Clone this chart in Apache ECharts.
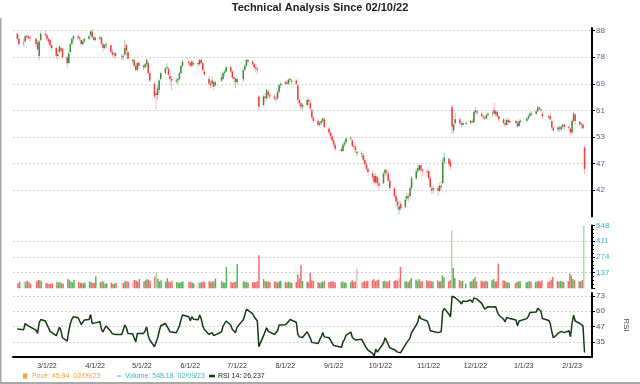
<!DOCTYPE html>
<html><head><meta charset="utf-8">
<script src="https://cdn.jsdelivr.net/npm/echarts@6/dist/echarts.min.js"></script>
<style>html,body{margin:0;padding:0;background:#fff}#c{width:640px;height:384px}</style>
</head><body><div id="c"></div>
<script>
const tradingDays = {
 '2022-02': [10,11,14,15,16,17,18,22,23,24,25,28],
 '2022-03': [1,2,3,4,7,8,9,10,11,14,15,16,17,18,21,22,23,24,25,28,29,30,31],
 '2022-04': [1,4,5,6,7,8,11,12,13,14,18,19,20,21,22,25,26,27,28,29],
 '2022-05': [2,3,4,5,6,9,10,11,12,13,16,17,18,19,20,23,24,25,26,27,31],
 '2022-06': [1,2,3,6,7,8,9,10,13,14,15,16,17,21,22,23,24,27,28,29,30],
 '2022-07': [1,5,6,7,8,11,12,13,14,15,18,19,20,21,22,25,26,27,28,29],
 '2022-08': [1,2,3,4,5,8,9,10,11,12,15,16,17,18,19,22,23,24,25,26,29,30,31],
 '2022-09': [1,2,6,7,8,9,12,13,14,15,16,19,20,21,22,23,26,27,28,29,30],
 '2022-10': [3,4,5,6,7,10,11,12,13,14,17,18,19,20,21,24,25,26,27,28,31],
 '2022-11': [1,2,3,4,7,8,9,10,11,14,15,16,17,18,21,22,23,25,28,29,30],
 '2022-12': [1,2,5,6,7,8,9,12,13,14,15,16,19,20,21,22,23,27,28,29,30],
 '2023-01': [3,4,5,6,9,10,11,12,13,17,18,19,20,23,24,25,26,27,30,31],
 '2023-02': [1,2,3,6,7,8,9]
};
const opens = [
 86.5,84.5,83,83.5,85.5,85.5,85,84.5,83,78,84,86.5,
 86,84.5,84,82,81,78,79.5,81,80.5,77.5,75.5,79.5,82.5,84.5,85.5,85,84,82.5,83.5,84.5,86,87.5,85,
 84,85,85,82.5,81,82,82,79.5,78.5,79,77.8,77.5,78.5,82,79.5,76.5,76.5,74.5,73,75.5,
 74.5,74,75,75.5,72,68.5,65.5,65,66.5,70,72,74,73.5,71,70,69.5,69.5,70,72,74.5,76,
 75.5,74.5,75.5,75.5,75,76.5,75.5,72.5,70,68.5,68.5,69,68,69.5,70,72,72.5,74,72.5,70.5,70,
 69,70,73,74.5,76.5,76,75,74,73.5,64.5,62,64.5,64,66,65,64.5,64,64,66,68,
 68.5,69,68.5,69.8,69.5,69.5,68,63.5,62.5,61.5,62,63.5,62.5,60.5,58.5,57.5,56.5,57,57.5,58,55.5,54.5,53.5,
 52.5,51.5,50.5,50,51.5,52,53,52.5,51.2,51,49.5,49.5,49,48,47,46,45,44.5,43.2,44.2,43,
 43,45,45.5,45,43.5,42,40.5,39.5,38,39,38.5,40,40.5,40.5,42,44,45.5,45.8,46.8,45.8,45.5,
 45.5,44,42,41.8,42,41.5,42.5,43,47.5,48.2,47.5,61.5,55,57,58,57,56.5,57,57,57.5,57.2,
 60,60.2,59.5,58.8,58.5,58.2,59.2,59.5,60.5,59.5,60,58.8,58,57,56.5,57.8,57.2,57.5,57,56.2,57.5,
 57.6,58.2,58.8,59.6,59.5,60.2,61.3,60.8,59.5,58.8,58.8,57.5,55.8,55.2,55.8,55.3,56,56.5,56,55.5,
 54.5,57.5,59.3,57.3,56.5,56.6,50.8
];
const closes = [
 84.5,82.5,82.8,85.5,85.2,84.8,84.5,82.5,80.5,83.5,86.5,86,
 84.5,83.5,82,81,78,78.5,81.5,80,77.5,75.5,79,82.5,84.5,85.5,85,84.5,82.5,83.5,84.5,85.5,87.5,85,84,
 85,85,82.5,81,82,82.5,79.5,78.5,78.8,78,77.8,78,81,80,77,76.5,74.5,73,75.5,74.5,
 74,75,76.5,72,69.5,64.5,65,67,69.5,72,73.5,74,71.5,70,69.5,69.5,70,72,74.5,76,75.5,
 74.5,76,75,75,76.5,75.5,73,71.5,68.5,68,69.5,67.5,69,70.5,72,72.5,74,72.5,70.5,70,69,
 70,73,74.5,76.5,76,75,74,73.5,73,61.5,64.5,64,66.5,65,64.5,64,63.8,66,68,68.5,
 69,68.5,69.8,70,69.2,68.5,63.5,62.5,61.5,62,63.5,63,61,58.5,57.5,56.5,57,57.5,58.2,56,54.5,53.5,52.5,
 51.5,50.5,50,51.5,52,53,53.2,51.2,51,50.2,49.8,49.5,48,47,46,45.3,44.2,43.2,44.5,43,42.5,
 45,45.8,45.3,43.5,42,40.5,39.5,38.8,38.6,38.2,39.8,40.5,40.2,42,44,45.5,46.2,46.8,45.8,45.5,45.3,
 44,42.2,41.5,42,41.5,42.5,42.2,47.5,48.5,47,46.5,56,56.5,58,57,56.5,57,57,57.5,57.3,60,
 60.5,59.8,58.8,58.5,58.2,59.2,59.5,59.8,59.5,60.2,58.8,58,57,56.5,57.8,57.2,57.5,57,56,57.5,57.6,
 58.2,58.8,59.6,59.5,60.2,61.3,60.8,60.5,58.8,58.5,58,55.8,55,55.8,55.5,56,56.5,56,55.8,54.5,
 57.5,59.5,57.5,56.7,56.8,55.6,45.94
];
const lows = [
 84,81.8,81.5,83,84.2,84,83.5,81.5,80,76.5,83.5,85,
 83.5,82.5,81,80,77,76.6,79,79.5,77,73.8,75,79,82,83.5,84,83.5,82,82,83,84,85.5,84.5,83.5,
 83.5,84,82,79.6,80.5,81,79,77.5,77.5,77,76.5,76.5,78,78,76.5,75,74,72.5,72.5,73.5,
 73,73.5,74,71.5,69,64,60.6,63.5,65.5,69.5,71.5,73,71,68.5,66.5,68.5,68,69.5,71.5,74,74.5,
 74,74,74.5,74,74.5,75,72.5,71,68,67,67.5,66.6,67.5,69,69.5,71,72,72,70,69,67,
 68.5,69,72.5,74,75,74.5,73,72.5,71.5,60.4,61.5,63,63.5,64,63.6,63.5,63,63.5,65.5,67,
 68,68,68.2,69,68,68,62.5,61.5,60.6,60.8,61.5,62,60.5,58,57,56,56,56.5,57,55.5,54,52.8,52,
 50.8,50,49.6,49.8,51,51.8,52.5,50.8,50.3,49.6,48.8,48.5,47.5,46.8,45.5,44.5,43.5,42.5,42.8,42.2,41.8,
 42.8,44.5,44.3,43.2,41.5,40,38.5,38,37.2,37.8,38.2,39.5,39.5,40.2,41.5,43.8,45,45.5,45.2,44.5,44.3,
 43.5,42,40.8,41,40.5,41.2,41.8,42.8,47,46.5,45.8,54.2,54.2,56.5,56.5,56,56,56.5,56.5,56.8,57,
 59.5,59,58.5,58,57.7,58,58.8,58.6,59,58.8,58.5,57.2,56.5,56,56.3,56.5,57,56.5,55.8,56,57,
 57.2,58,58.5,59,59.2,60,60.4,60.2,58,58,57.7,55.3,54.9,54.8,54.5,55,55.5,55.2,55,53.8,
 54,57.2,56.5,56,55.5,55.4,44.9
];
const highs = [
 87,86,84.5,86.2,86.5,86.3,85.8,85,84,84,87.5,88,
 86.5,85,84.5,82.5,81.5,80.5,82,81.5,81,78,79.5,83,85,86,86.5,85.5,84.5,84,85,86,88,88.3,85.5,
 85.5,85.8,85.5,83,82.5,83,82.3,80.5,79.5,79.5,78.5,78.8,84.2,82.5,80,77,77,75,76,76,
 75,75.5,77,76,72.5,69,66,68,70,72.5,74,75.5,74,72,71,70.5,70.5,72.5,75,76.6,76.5,
 76,76.5,76,76,77,77.2,76,73,71,69.5,70.5,69.5,69.5,71.5,72.5,73,74.5,74.5,73,71,70.5,
 70.5,73.5,75,77,77,76.5,75.5,75,74,65,65,65.5,66.8,66.5,65.5,65.5,65,66.5,68.5,69,
 69.5,69.8,70.2,70.5,70,70,68,64,63,62.5,64,64,63.5,61,59,58,57.5,58,58.5,58.5,56,55,54,
 53,52,51,52,52.5,53.2,53.6,53,51.8,51.5,50,50,49.5,49,47.5,46.2,45.5,45,45,44.5,44,
 45.3,46,46,45.5,44,42.3,41,40,39.5,39.5,40.5,41.2,41,42.5,44.5,46,46.8,47,47,46,46,
 46,44.5,42.5,42.5,42.5,43,43.5,48.5,49.6,48.5,48,62,57,59.8,58.5,57.5,57.5,57.5,57.8,58,60.5,
 61.3,60.5,60,59.2,59,59.5,60,60.7,62.6,60.7,60.3,59,58.3,57.7,58.3,58.3,58,57.8,57.5,58,58,
 58.6,59.3,60,60.3,60.7,61.9,61.5,61.2,60,59.3,59.7,57.7,56.2,56.2,56.4,56.4,56.9,56.8,56.4,55.8,
 58,60,59.5,57.5,57,56.9,51.3
];
const volumes = [
 44,58,52,60,66,52,40,62,73,70,60,48,
 42,38,40,44,58,50,54,44,40,82,72,58,52,74,56,46,50,42,50,60,52,46,48,
 102,55,60,58,40,44,50,38,42,48,50,46,64,60,58,70,72,66,56,82,
 60,70,82,74,62,102,140,84,60,70,58,87,60,52,66,54,50,48,56,60,58,
 56,50,44,52,48,54,60,56,64,52,58,62,85,60,52,50,187,56,48,52,58,
 210,60,58,56,48,54,52,56,62,289,80,64,60,58,54,60,56,52,62,66,
 54,50,58,52,48,56,120,82,201,64,58,52,134,70,62,56,48,52,58,60,54,56,62,
 58,50,54,60,52,48,56,70,52,60,172,58,52,64,60,66,70,78,62,70,76,
 62,66,54,60,68,64,72,66,90,187,62,58,52,70,88,74,66,82,58,64,70,
 60,66,62,58,70,60,62,114,96,60,70,504,178,90,72,60,64,40,58,64,80,
 96,60,66,62,58,64,56,70,80,60,62,216,70,66,58,52,48,44,56,60,62,
 52,58,62,60,56,60,66,58,70,54,60,74,100,62,58,64,60,56,62,128,
 110,82,70,62,58,72,548.18
];
const rsi14 = [
 45.5,44.5,44.8,50,49,48,48,44.5,41.8,50.5,53.3,52,
 49,46.5,43.5,42,40,40.5,47,44,38.3,35.5,44,50,53.5,55.5,54.7,53.5,49.2,51,52.8,53.3,57.4,50,48.7,
 50.5,51.4,45,43,46,48,43.5,41.5,42,41,41,41.5,48.7,46.5,41.8,41.5,38,35,41.8,40.5,
 41.8,44,47.3,40,36.5,30.9,31.5,38,43.2,48.1,50,49.5,45.5,43.2,42.4,42.4,43.5,47.9,53,56.9,55.5,
 52.2,55.5,53.5,53,56.9,54,48,45,41,40.5,42.5,40,41,43,47.9,49.5,52,48.5,45,44.5,42.5,
 47,53,57,61.8,60.5,58,55.5,54,52,31,40,38.5,46.5,43.5,42.5,41,40,44,48.7,48.7,
 49,48,51.5,53.3,52,51,41,39,37.5,38.5,43.2,42,38,34.5,33.5,33.6,36.5,39,42.7,39,38.3,36.9,34,
 32,31,30.5,35,37,40.5,43,38.5,38,36.5,37.5,37,34.5,32.3,30,28.2,25.5,23.2,29,26.5,25.4,
 34,38.3,37.5,33,30,28.5,27.5,26.5,26.5,26,32.5,34.5,34,38,42.5,48.7,51.4,56.5,54,52.8,52,
 49,44,42.5,43.5,42.5,44,43.2,60,62.4,57.5,55.5,72.5,71.5,71.1,67.8,66,68.4,68,69.2,67.3,71,
 72,70,66.5,64,61.8,63,63.8,63.5,62.4,63.8,59.6,57,53.5,51.4,55,54.5,54.1,52.8,48.1,52,53.6,
 54,56,59,58.5,59.5,62.4,61,60,54.1,52.5,50,43.2,38.3,41.8,41,43.5,44.6,42.5,44,39.1,
 50,56.9,52,50,50.5,48,26.237
];
const priceTickLabels = ['42','47','53','61','69','78','88'];
const volumeTickLabels = ['137','274','411','548'];
const rsiTickLabels = ['35','47','60','73'];
const xTickMonths = ['3/1/22','4/1/22','5/1/22','6/1/22','7/1/22','8/1/22','9/1/22','10/1/22','11/1/22','12/1/22','1/1/23','2/1/23'];
const volumeUpOverride = ['2023-02-09'];

// ---------- build ----------
const dates = [], times = [];
Object.keys(tradingDays).forEach(k => {
  const [y, m] = k.split('-').map(Number);
  tradingDays[k].forEach(d => {
    dates.push(k + '-' + String(d).padStart(2, '0'));
    times.push(new Date(y, m - 1, d).getTime());
  });
});
const N = times.length;
const ohlc = [], vol = [], rsi = [];
for (let i = 0; i < N; i++) {
  const o = opens[i], c = closes[i];
  const h = Math.max(highs[i], o, c), l = Math.min(lows[i], o, c);
  ohlc.push([times[i], o, c, l, h]);
  const prev = i > 0 ? closes[i - 1] : o;
  let up = c >= prev;
  if (volumeUpOverride.indexOf(dates[i]) >= 0) up = true;
  const hollow = c >= o;
  const col = up ? (hollow ? '#5cb55c' : '#acdcac') : (hollow ? '#f8b8b8' : '#f36d6d');
  vol.push({ value: [times[i], volumes[i]], itemStyle: { color: col } });
  rsi.push([times[i], rsi14[i]]);
}
function fmtDate(s) { const p = s.split('-'); return p[1] + '/' + p[2] + '/' + p[0].slice(2); }

const FONT = 'Arial, "Liberation Sans", sans-serif';
const PBASE = 1.13236, PEXP0 = 30;
const xMin = new Date(2022, 1, 7, 5).getTime();
const xMax = new Date(2023, 1, 13, 19).getTime();
const dayMs = 86400000;

function xAxisCfg(idx, show) {
  return {
    type: 'time', gridIndex: idx, min: xMin, max: xMax, splitNumber: 12,
    minInterval: 28 * dayMs, maxInterval: 31 * dayMs,
    show: show,
    axisLine: { show: show, lineStyle: { color: '#000', width: 2 } },
    axisTick: { show: false },
    splitLine: { show: false },
    axisLabel: {
      show: show, fontSize: 7, color: '#333', fontFamily: FONT, margin: 6,
      showMinLabel: false, showMaxLabel: false,
      formatter: function (v) {
        const d = new Date(v);
        if (d.getDate() !== 1 || d.getHours() !== 0) return '';
        const lab = (d.getMonth() + 1) + '/1/' + String(d.getFullYear()).slice(2);
        return xTickMonths.indexOf(lab) >= 0 ? lab : '';
      }
    }
  };
}
const dotted = { show: true, lineStyle: { color: '#d2d2d2', type: [2, 2], width: 1 }, showMinLine: false, showMaxLine: false };

const option = {
  animation: false,
  backgroundColor: '#fff',
  title: { text: 'Technical Analysis Since 02/10/22', left: 'center', top: -3,
    textStyle: { fontSize: 11, fontWeight: 'bold', color: '#222', fontFamily: FONT } },
  grid: [
    { left: 13, right: 48, top: 28, height: 188.5 },
    { left: 13, right: 48, top: 225.5, height: 62.8 },
    { left: 13, right: 48, top: 293, height: 64 }
  ],
  xAxis: [xAxisCfg(0, false), xAxisCfg(1, false), xAxisCfg(2, true)],
  yAxis: [
    { type: 'log', logBase: PBASE, gridIndex: 0, position: 'right', min: 36.8, max: 88.9,
      axisLine: { show: true, lineStyle: { color: '#000', width: 2 } },
      axisTick: { show: true, length: 3, lineStyle: { color: '#000' } },
      splitLine: dotted,
      axisLabel: { fontSize: 8, color: '#5a5aa6', fontFamily: FONT, margin: 4,
        showMinLabel: false, showMaxLabel: false,
        formatter: function (v) {
          const e = Math.log(v) / Math.log(PBASE);
          if (Math.abs(e - Math.round(e)) > 0.02) return '';
          const lab = priceTickLabels[Math.round(e) - PEXP0];
          return lab || '';
        } } },
    { type: 'value', gridIndex: 1, position: 'right', min: 0, max: 548.18, interval: 137.045,
      axisLine: { show: true, lineStyle: { color: '#000', width: 2 } },
      axisTick: { show: true, length: 3, lineStyle: { color: '#000' } },
      minorTick: { show: true, splitNumber: 4, length: 2, lineStyle: { color: '#000' } },
      splitLine: dotted,
      axisLabel: { fontSize: 8, color: '#3db4c6', fontFamily: FONT, margin: 4,
        showMinLabel: false,
        formatter: function (v) { const i = Math.round(v / 137.045) - 1; return volumeTickLabels[i] || ''; } } },
    { type: 'value', gridIndex: 2, position: 'right', min: 22.5, max: 75, interval: 12.5,
      name: 'RSI', nameLocation: 'middle', nameRotate: -90, nameGap: 30,
      nameTextStyle: { fontSize: 8, color: '#555', fontFamily: FONT },
      axisLine: { show: true, lineStyle: { color: '#000', width: 2 } },
      axisTick: { show: true, length: 3, lineStyle: { color: '#000' } },
      splitLine: dotted,
      axisLabel: { fontSize: 8, color: '#555', fontFamily: FONT, margin: 4,
        showMinLabel: false, showMaxLabel: false,
        formatter: function (v) { const i = Math.round((v - 22.5) / 12.5) - 1; return rsiTickLabels[i] || ''; } } }
  ],
  series: [
    { name: 'Price', type: 'custom', xAxisIndex: 0, yAxisIndex: 0, clip: true,
      itemStyle: { color: '#f5a030' },
      encode: { x: 0, y: [1, 2, 3, 4] },
      data: ohlc,
      renderItem: function (params, api) {
        const t = api.value(0), o = api.value(1), c = api.value(2), l = api.value(3), h = api.value(4);
        const pH = api.coord([t, h]), pL = api.coord([t, l]), pO = api.coord([t, o]), pC = api.coord([t, c]);
        const up = c >= o;
        const dark = up ? '#3a8f3a' : '#f23c3c';
        const light = up ? '#a4d4a4' : '#ffb4b4';
        const top = Math.min(pO[1], pC[1]);
        const hgt = Math.max(1, Math.abs(pO[1] - pC[1]));
        return { type: 'group', children: [
          { type: 'line', shape: { x1: pH[0], y1: pH[1], x2: pL[0], y2: pL[1] }, style: { stroke: light, lineWidth: 1 } },
          { type: 'rect', shape: { x: pO[0] - 0.75, y: top, width: 1.5, height: hgt }, style: { fill: dark } }
        ] };
      } },
    { name: 'Volume', type: 'bar', xAxisIndex: 1, yAxisIndex: 1, barWidth: 1.5,
      itemStyle: { color: '#3db4c6' }, data: vol },
    { name: 'RSI 14', type: 'line', xAxisIndex: 2, yAxisIndex: 2, showSymbol: false,
      lineStyle: { color: '#123d12', width: 1.5 }, itemStyle: { color: '#123d12' }, data: rsi }
  ],
  graphic: [
    { type: 'rect', shape: { x: 0, y: 18, width: 1.5, height: 366 }, style: { fill: '#a8a8a8' } },
    { type: 'rect', shape: { x: 0, y: 382, width: 640, height: 2 }, style: { fill: '#a8a8a8' } },
    { type: 'rect', shape: { x: 23, y: 373.5, width: 4, height: 5 }, style: { fill: '#f5a030' } },
    { type: 'text', x: 32, y: 376, style: { text: 'Price: ' + closes[N - 1].toFixed(2) + '  ' + fmtDate(dates[N - 1]),
        fill: '#f5a040', font: '7px ' + FONT, verticalAlign: 'middle' } },
    { type: 'rect', shape: { x: 117, y: 375.5, width: 4, height: 1 }, style: { fill: '#3db4c6' } },
    { type: 'text', x: 125, y: 376, style: { text: 'Volume: ' + volumes[N - 1].toFixed(2) + '  ' + fmtDate(dates[N - 1]),
        fill: '#3db4c6', font: '7px ' + FONT, verticalAlign: 'middle' } },
    { type: 'rect', shape: { x: 209, y: 374.8, width: 6, height: 2.5 }, style: { fill: '#123d12' } },
    { type: 'text', x: 218, y: 376, style: { text: 'RSI 14: ' + rsi14[N - 1],
        fill: '#222', font: '7px ' + FONT, verticalAlign: 'middle' } }
  ]
};

const chart = echarts.init(document.getElementById('c'), null, { renderer: 'canvas' });
chart.setOption(option);
</script>
</body></html>
